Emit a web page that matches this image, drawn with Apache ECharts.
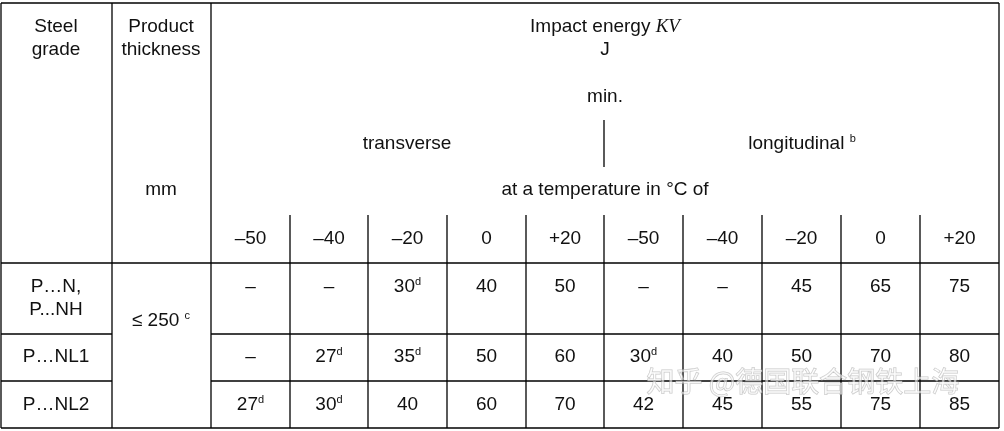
<!DOCTYPE html>
<html>
<head>
<meta charset="utf-8">
<script src="https://cdn.jsdelivr.net/npm/echarts@6/dist/echarts.min.js"></script>
<style>html,body{margin:0;padding:0;background:#fff}#main{width:1004px;height:431px}</style>
</head>
<body>
<div id="main"></div>
<script>
// table content
const grades = [['P…N,', 'P...NH'], ['P…NL1'], ['P…NL2']];
const thickness = '≤ 250';
const thicknessSup = 'c';
const temps = ['–50', '–40', '–20', '0', '+20', '–50', '–40', '–20', '0', '+20'];
const rowN = ['–', '–', '30', '40', '50', '–', '–', '45', '65', '75'];
const rowNSup = ['', '', 'd', '', '', '', '', '', '', ''];
const rowNL1 = ['–', '27', '35', '50', '60', '30', '40', '50', '70', '80'];
const rowNL1Sup = ['', 'd', 'd', '', '', 'd', '', '', '', ''];
const rowNL2 = ['27', '30', '40', '60', '70', '42', '45', '55', '75', '85'];
const rowNL2Sup = ['d', 'd', '', '', '', '', '', '', '', ''];

// layout (pixels)
const colX = [211, 290, 368, 447, 526, 604, 683, 762, 841, 920, 999];
const valueY = [287, 357, 405];

let lines = [
    [1, 3, 999, 3], [1, 428, 999, 428], [1, 3, 1, 428], [999, 3, 999, 428],
    [112, 3, 112, 428], [211, 3, 211, 428], [1, 263, 999, 263],
    [1, 334, 112, 334], [211, 334, 999, 334], [1, 381, 112, 381], [211, 381, 999, 381],
    [604, 120, 604, 167]
];
for (let i = 1; i < colX.length - 1; i++) lines.push([colX[i], 215, colX[i], 428]);

let texts = [
    [56, 27, 'Steel'], [56, 50, 'grade'],
    [161, 27, 'Product'], [161, 50, 'thickness'], [161, 190, 'mm'],
    [605, 27, '{n|Impact energy }{i|KV}'], [605, 50, 'J'], [605, 97, 'min.'],
    [407, 144, 'transverse'], [802, 144, 'longitudinal {s|b}'],
    [605, 190, 'at a temperature in °C of'],
    [161, 321, thickness + ' {s|' + thicknessSup + '}']
];
grades.forEach(function (g, r) {
    if (g.length === 2) {
        texts.push([56, 287, g[0]], [56, 310, g[1]]);
    } else {
        texts.push([56, valueY[r], g[0]]);
    }
});
temps.forEach(function (t, i) {
    texts.push([(colX[i] + colX[i + 1]) / 2, 239, t]);
});
[[rowN, rowNSup], [rowNL1, rowNL1Sup], [rowNL2, rowNL2Sup]].forEach(function (row, r) {
    row[0].forEach(function (v, i) {
        let s = row[1][i] ? v + '{s|' + row[1][i] + '}' : v;
        texts.push([(colX[i] + colX[i + 1]) / 2, valueY[r], s]);
    });
});

const chart = echarts.init(document.getElementById('main'));
const font = 'Liberation Sans, Arial, sans-serif';
chart.setOption({
    animation: false,
    grid: {left: 0, right: 0, top: 0, bottom: 0},
    xAxis: {type: 'value', min: 0, max: 1004, show: false},
    yAxis: {type: 'value', min: 0, max: 431, inverse: true, show: false},
    graphic: [{
        type: 'text', left: 646, top: 367, z: 100,
        style: {text: '知乎 @德国联合钢铁上海', fill: 'rgba(255,255,255,0.55)', stroke: 'rgba(150,150,150,0.55)', lineWidth: 1, font: '28px "Noto Sans CJK SC"'}
    }],
    series: [{
        type: 'custom',
        data: lines,
        renderItem: function (params, api) {
            let a = api.coord([api.value(0), api.value(1)]);
            let b = api.coord([api.value(2), api.value(3)]);
            return {
                type: 'line',
                shape: {x1: a[0], y1: a[1], x2: b[0], y2: b[1]},
                style: {stroke: '#000', lineWidth: 1.3}
            };
        }
    }, {
        type: 'custom',
        data: texts.map(function (t) { return [t[0], t[1], t[2]]; }),
        dimensions: ['x', 'y', {name: 'txt', type: 'ordinal'}],
        renderItem: function (params, api) {
            let t = texts[params.dataIndex];
            let p = api.coord([t[0], t[1]]);
            return {
                type: 'text',
                x: p[0], y: p[1],
                style: {
                    text: t[2], align: 'center', verticalAlign: 'middle',
                    fill: '#111', fontSize: 19, fontFamily: font,
                    rich: {
                        n: {fontSize: 19, fontFamily: font, fill: '#111'},
                        i: {fontSize: 19, fontFamily: 'Liberation Serif, serif', fontStyle: 'italic', fill: '#111'},
                        s: {fontSize: 11, fontFamily: font, fill: '#111', verticalAlign: 'top', padding: [0, 0, 10, 0]}
                    }
                }
            };
        }
    }]
});
</script>
</body>
</html>
